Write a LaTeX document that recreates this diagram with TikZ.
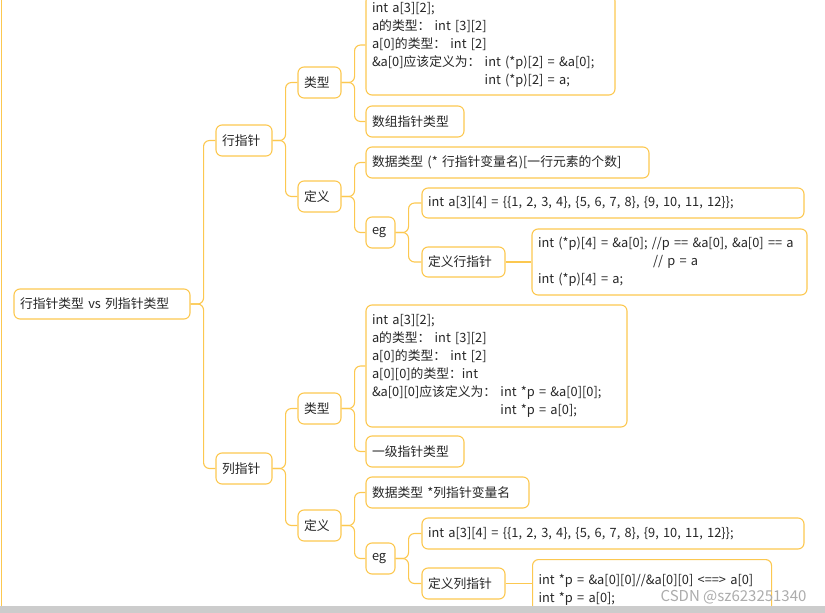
\documentclass[tikz,border=0pt]{standalone}
\usepackage{fontspec}
\setmainfont{Noto Sans CJK SC}
\definecolor{org}{RGB}{252,200,80}
\begin{document}
\begin{tikzpicture}[x=1pt,y=-1pt,
  box/.style={draw=org,line width=1.1pt,rounded corners=6pt,fill=white,align=left,inner xsep=6pt,inner ysep=2pt,font=\fontsize{12.8}{18}\selectfont,text=black!85},
  ln/.style={draw=org,line width=1.1pt,rounded corners=6pt}]
\useasboundingbox (0,0) rectangle (825,613);
\draw[org,line width=1.6pt] (1.5,0) -- (1.5,606);
\newcommand{\bx}[7]{\node[box,minimum width=#4-#2,minimum height=#5-#3,text width=#4-#2-12] (#1) at ({(#2+#4)/2},{(#3+#5)/2}) {#7};}
\bx{root}{14}{289}{190}{319}{}{行指针类型 vs 列指针类型}
\bx{h}{216}{125}{272}{156}{}{行指针}
\bx{l}{216}{453}{272}{484}{}{列指针}
\bx{t1}{298}{67}{341}{98}{}{类型}
\bx{d1}{298}{181}{341}{212}{}{定义}
\bx{A}{366}{-5}{615}{95}{}{int a[3][2];\\a的类型： int [3][2]\\a[0]的类型： int [2]\\\&a[0]应该定义为： int (*p)[2] = \&a[0];\\\phantom{\&a[0]应该定义为：} int (*p)[2] = a;}
\bx{s1}{366}{106}{464}{137}{}{数组指针类型}
\bx{f1}{366}{147}{649}{178}{}{数据类型 (* 行指针变量名)[一行元素的个数]}
\bx{e1}{366}{217}{395}{248}{}{eg}
\bx{i1}{422}{188}{804}{218}{}{int a[3][4] = \{\{1, 2, 3, 4\}, \{5, 6, 7, 8\}, \{9, 10, 11, 12\}\};}
\bx{dh}{422}{247}{505}{277}{}{定义行指针}
\bx{c2}{532}{229}{807}{295}{}{int (*p)[4] = \&a[0]; //p == \&a[0], \&a[0] == a\\\hspace*{115pt}// p = a\\int (*p)[4] = a;}
\bx{t2}{298}{393}{341}{424}{}{类型}
\bx{d2}{298}{510}{341}{541}{}{定义}
\bx{B}{366}{305}{627}{427}{}{int a[3][2];\\a的类型： int [3][2]\\a[0]的类型： int [2]\\a[0][0]的类型：int\\\&a[0][0]应该定义为： int *p = \&a[0][0];\\\phantom{\&a[0][0]应该定义为：} int *p = a[0];}
\bx{s2}{366}{436}{464}{467}{}{一级指针类型}
\bx{f2}{366}{477}{529}{508}{}{数据类型 *列指针变量名}
\bx{e2}{366}{543}{395}{574}{}{eg}
\bx{i2}{422}{518}{804}{549}{}{int a[3][4] = \{\{1, 2, 3, 4\}, \{5, 6, 7, 8\}, \{9, 10, 11, 12\}\};}
\bx{dl}{422}{568}{505}{599}{}{定义列指针}
\node[box,anchor=north west,minimum width=239,minimum height=60,text width=227] (c3) at (532,559) {int *p = \&a[0][0]//\&a[0][0] <==> a[0]\\int *p = a[0];};
\node[font=\fontsize{15}{17}\selectfont,text=gray!65,anchor=east] (wm) at (810,597) {CSDN @sz623251340};
\fill[gray!40] (0,606) rectangle (825,613);
\foreach \p/\c in {root/h,root/l,h/t1,h/d1,t1/A,t1/s1,d1/f1,d1/e1,e1/i1,e1/dh,l/t2,l/d2,t2/B,t2/s2,d2/f2,d2/e2,e2/i2,e2/dl}
  \draw[ln] (\p.east) -- ++(13,0) |- (\c.west);
\draw[ln] (dh.east) -- (c2.west);
\draw[ln] (dl.east) -- (dl.east -| c3.west);
\end{tikzpicture}
\end{document}
